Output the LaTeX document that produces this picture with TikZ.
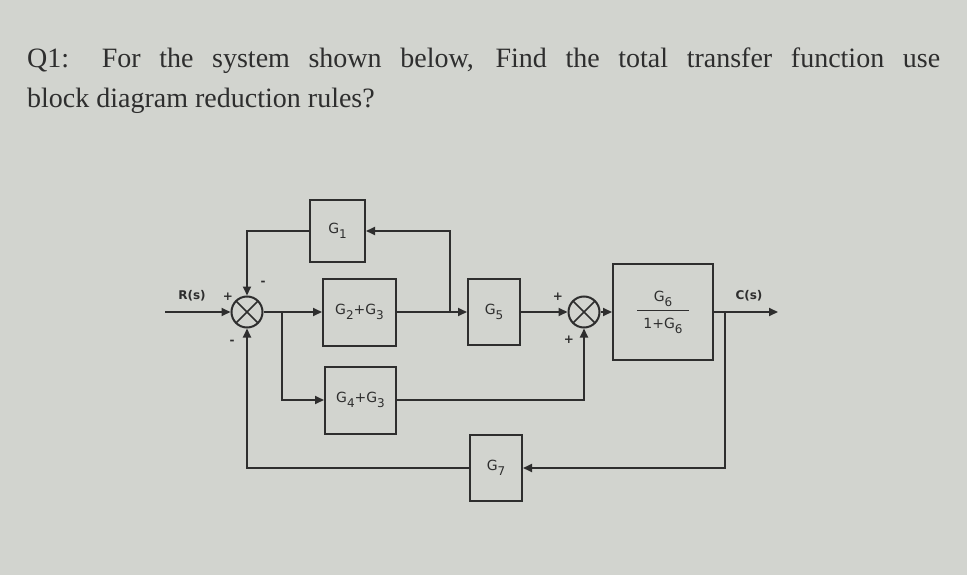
\documentclass[tikz,border=0pt]{standalone}
\usepackage{fontspec}
\setmainfont{Liberation Serif}
\newfontfamily\dia{DejaVu Sans}
\usetikzlibrary{arrows.meta}
\definecolor{bg}{HTML}{D2D4CF}
\definecolor{ink}{HTML}{2E2E2E}
\newcommand{\lowsub}[1]{\raisebox{-5pt}{\fontsize{12}{13}\selectfont #1}}
\begin{document}
\begin{tikzpicture}[x=1pt,y=-1pt,
  blk/.style={draw=ink,line width=2pt,minimum width=#1,inner sep=0pt,font=\dia\fontsize{14}{16}\selectfont,text=ink},
  sig/.style={draw=ink,line width=2pt},
  arr/.style={sig,-{Triangle[length=9pt,width=8pt]}},
  summ/.style={circle,draw=ink,line width=2pt,minimum size=31pt,inner sep=0pt,path picture={\draw[ink,line width=1.5pt] (path picture bounding box.north west)--(path picture bounding box.south east) (path picture bounding box.north east)--(path picture bounding box.south west);}},
  sg/.style={font=\dia\bfseries\fontsize{12}{13}\selectfont,text=ink}]
\fill[bg] (0,0) rectangle (967,575);
\useasboundingbox (0,0) rectangle (967,575);
\node[anchor=base west,font=\fontsize{28}{34}\selectfont,text=ink,inner sep=0pt] (t1) at (27,68) {\makebox[913pt][s]{Q1: For the system shown below, Find the total transfer function use}};
\node[anchor=base west,font=\fontsize{28}{34}\selectfont,text=ink,inner sep=0pt] (t2) at (27,108) {block diagram reduction rules?};
% blocks
\node[blk=55pt,minimum height=62pt] (g1) at (337.5,231) {G\lowsub{1}};
\node[blk=73pt,minimum height=67pt] (g23) at (359.5,312) {G\lowsub{2}+G\lowsub{3}};
\node[blk=71pt,minimum height=67pt] (g43) at (360.5,400) {G\lowsub{4}+G\lowsub{3}};
\node[blk=52pt,minimum height=66pt] (g5) at (494,312) {G\lowsub{5}};
\node[blk=52pt,minimum height=66pt] (g7) at (496,468) {G\lowsub{7}};
\node[blk=100pt,minimum height=96pt] (g6) at (663,312) {$\vcenter{\hbox{\dia\fontsize{14}{16}\selectfont\begin{tabular}{c}G\lowsub{6}\\[4pt]\hline\rule{0pt}{18pt}1+G\lowsub{6}\end{tabular}}}$};
\node[summ] (s1) at (247,312) {};
\node[summ] (s2) at (584,312) {};
% coordinates
\coordinate (in) at (165,312);
\coordinate (out) at (778,312);
\coordinate (b1) at (282,312);
\coordinate (b2) at (450,312);
\coordinate (b3) at (725,312);
% connections
\draw[arr] (in) -- (s1.west);
\draw[arr] (s1.east) -- (g23.west);
\draw[arr] (b1) |- (g43.west);
\draw[sig] (g23.east) -- (b2);
\draw[arr] (b2) -- (g5.west);
\draw[arr] (b2) |- (g1.east);
\draw[arr] (g1.west) -| (s1.north);
\draw[arr] (g5.east) -- (s2.west);
\draw[arr] (g43.east) -| (s2.south);
\draw[arr] (s2.east) -- (g6.west);
\draw[arr] (g6.east) -- (out);
\draw[arr] (b3) |- (g7.east);
\draw[arr] (g7.west) -| (s1.south);
% labels
\node[sg] (rs) at (192,296) {R(s)};
\node[sg] (p1) at (228,297) {+};
\node[sg] (m1) at (263,283) {-};
\node[sg] (m2) at (232,342) {-};
\node[sg] (p2) at (558,297) {+};
\node[sg] (p3) at (569,340) {+};
\node[sg] (cs) at (749,296) {C(s)};
\end{tikzpicture}
\end{document}
